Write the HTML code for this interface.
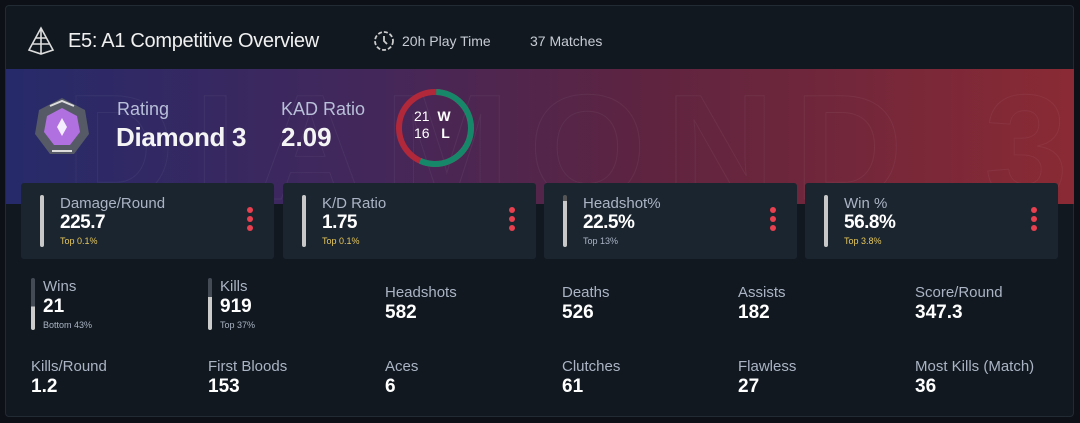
<!DOCTYPE html>
<html><head><meta charset="utf-8"><style>
*{margin:0;padding:0;box-sizing:border-box}
body{width:1080px;height:423px;background:#0d1117;font-family:"Liberation Sans",sans-serif;position:relative;overflow:hidden;color:#fff}
.card{position:absolute;left:5px;top:5px;width:1069px;height:412px;background:#111820;border:1px solid #222a33;border-radius:4px}
.abs{position:absolute;white-space:nowrap}
.banner{position:absolute;left:6px;top:69px;width:1068px;height:135px;overflow:hidden;background:linear-gradient(90deg,#262a6a 0%,#44275a 35%,#5e2440 60%,#8a2a34 100%)}
.sc{position:absolute;top:183px;width:253px;height:76px;background:#1b2530;border-radius:3px}
.sc .bar{position:absolute;left:19px;top:12px;width:4px;height:52px;background:#c8c8c8;border-radius:2px}
.sc .l{position:absolute;left:39px;top:12px;font-size:15px;color:#aab4c4}
.sc .v{position:absolute;left:39px;top:29px;font-size:19px;font-weight:bold;color:#fff;letter-spacing:-0.5px}
.sc .t{position:absolute;left:39px;top:53px;font-size:9px;color:#e6c75c}
.sc .d{position:absolute;left:226px;top:24px;width:6px}
.sc .d i{display:block;width:6px;height:6px;border-radius:3px;background:#e8404f;margin-bottom:3px}
.st .l{font-size:15px;color:#aab4c4}
.st .v{font-size:19px;font-weight:bold;color:#fff;margin-top:1px}
.st{position:absolute}
</style></head><body>
<div class="card"></div>
<svg class="abs" style="left:26px;top:26px" width="30" height="30" viewBox="0 0 30 30" fill="none" stroke="#ddd" stroke-width="1.6"><path d="M15 2 L3 24 L15 28 L27 24 Z M15 2 L15 28 M6 18 L24 18 M9 12 L21 12"/></svg>
<div class="abs" style="left:68px;top:30px;font-size:20px;color:#f0f0f0;letter-spacing:-0.3px">E5: A1 Competitive Overview</div>
<svg class="abs" style="left:373px;top:30px" width="22" height="22" viewBox="0 0 22 22" fill="none" stroke="#ccc" stroke-width="1.8"><circle cx="11" cy="11" r="9" stroke-dasharray="4 2"/><path d="M11 6 V11 L14 14"/></svg>
<div class="abs" style="left:402px;top:33px;font-size:14px;color:#c8ccd4">20h Play Time</div>
<div class="abs" style="left:530px;top:33px;font-size:14px;color:#c8ccd4">37 Matches</div>
<div class="banner"><div class="abs" style="left:60px;top:-8px;font-size:150px;font-weight:bold;color:transparent;-webkit-text-stroke:1px rgba(255,255,255,0.05);letter-spacing:20px">DIAMOND 3</div></div>
<svg class="abs" style="left:32px;top:96px" width="60" height="62" viewBox="0 0 60 62"><polygon points="30,2 53,14 57,38 42,58 18,58 3,38 7,14" fill="#555a66"/><polygon points="30,12 45,20 48,36 38,49 22,49 12,36 15,20" fill="#b070e0"/><polygon points="30,22 35,31 30,40 25,31" fill="#f4ecff"/><path d="M18 10 L30 5 L42 10 M20 55 H40" stroke="#ddd" stroke-width="2" fill="none"/></svg>
<div class="abs" style="left:117px;top:99px;font-size:18px;color:#b8bfd8">Rating</div>
<div class="abs" style="left:116px;top:122px;font-size:26px;font-weight:bold;color:#f4f4f4;letter-spacing:-0.3px">Diamond 3</div>
<div class="abs" style="left:281px;top:99px;font-size:18px;color:#b8bfd8">KAD Ratio</div>
<div class="abs" style="left:281px;top:122px;font-size:26px;font-weight:bold;color:#f4f4f4">2.09</div>
<svg class="abs" style="left:394px;top:87px" width="82" height="82" viewBox="0 0 82 82"><circle cx="41" cy="41" r="36" fill="none" stroke="#b0283a" stroke-width="6"/><circle cx="41" cy="41" r="36" fill="none" stroke="#17876a" stroke-width="6" stroke-dasharray="127 300" transform="rotate(-88 41 41)"/></svg>
<div class="abs" style="left:414px;top:108px;font-size:14px;color:#fff;line-height:17px">21&nbsp; <b>W</b><br>16&nbsp;&nbsp; <b>L</b></div>

<div class="sc" style="left:21px"><div class="bar"></div><div class="l">Damage/Round</div><div class="v">225.7</div><div class="t">Top 0.1%</div><div class="d"><i></i><i></i><i></i></div></div>
<div class="sc" style="left:283px"><div class="bar"></div><div class="l">K/D Ratio</div><div class="v">1.75</div><div class="t">Top 0.1%</div><div class="d"><i></i><i></i><i></i></div></div>
<div class="sc" style="left:544px"><div class="bar" style="background:linear-gradient(#555 0,#555 12%,#c8c8c8 12%)"></div><div class="l">Headshot%</div><div class="v">22.5%</div><div class="t" style="color:#aab4c4">Top 13%</div><div class="d"><i></i><i></i><i></i></div></div>
<div class="sc" style="left:805px"><div class="bar"></div><div class="l">Win %</div><div class="v">56.8%</div><div class="t">Top 3.8%</div><div class="d"><i></i><i></i><i></i></div></div>

<div class="abs" style="left:31px;top:278px;width:4px;height:52px;border-radius:2px;background:linear-gradient(#444b55 0,#444b55 55%,#ccc 55%)"></div>
<div class="st" style="left:43px;top:278px"><div class="l">Wins</div><div class="v">21</div><div style="font-size:9px;color:#aab4c4;margin-top:2px">Bottom 43%</div></div>
<div class="abs" style="left:208px;top:278px;width:4px;height:52px;border-radius:2px;background:linear-gradient(#444b55 0,#444b55 37%,#ccc 37%)"></div>
<div class="st" style="left:220px;top:278px"><div class="l">Kills</div><div class="v">919</div><div style="font-size:9px;color:#aab4c4;margin-top:2px">Top 37%</div></div>
<div class="st" style="left:385px;top:284px"><div class="l">Headshots</div><div class="v">582</div></div>
<div class="st" style="left:562px;top:284px"><div class="l">Deaths</div><div class="v">526</div></div>
<div class="st" style="left:738px;top:284px"><div class="l">Assists</div><div class="v">182</div></div>
<div class="st" style="left:915px;top:284px"><div class="l">Score/Round</div><div class="v">347.3</div></div>
<div class="st" style="left:31px;top:358px"><div class="l">Kills/Round</div><div class="v">1.2</div></div>
<div class="st" style="left:208px;top:358px"><div class="l">First Bloods</div><div class="v">153</div></div>
<div class="st" style="left:385px;top:358px"><div class="l">Aces</div><div class="v">6</div></div>
<div class="st" style="left:562px;top:358px"><div class="l">Clutches</div><div class="v">61</div></div>
<div class="st" style="left:738px;top:358px"><div class="l">Flawless</div><div class="v">27</div></div>
<div class="st" style="left:915px;top:358px"><div class="l">Most Kills (Match)</div><div class="v">36</div></div>
</body></html>
